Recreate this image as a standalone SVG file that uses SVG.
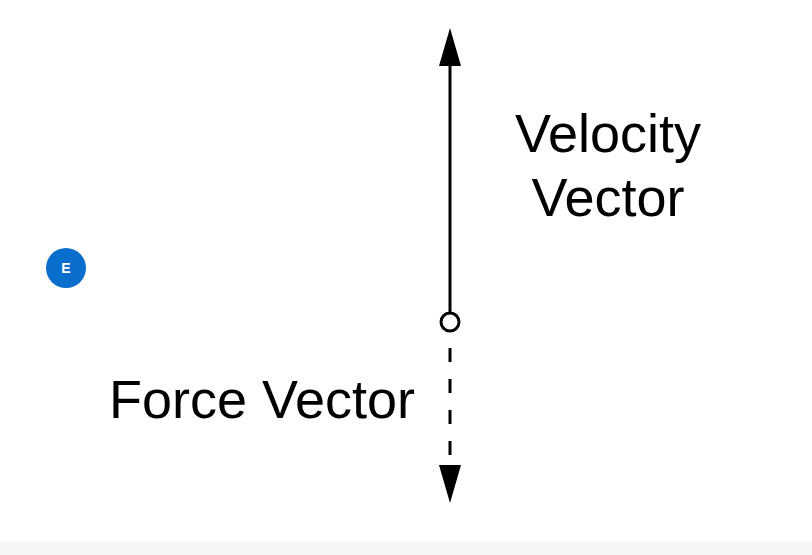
<svg xmlns="http://www.w3.org/2000/svg" width="812" height="555" viewBox="0 0 812 555">
<style>
.lbl{font-family:"Liberation Sans",Arial,sans-serif;font-size:54px;fill:#000}
.ln{stroke:#000;stroke-width:3;fill:none}
</style>
<rect width="812" height="555" fill="#fff"/>
<rect y="541" width="812" height="14" fill="#f6f6f6"/>
<g id="connectors">
<line class="ln" x1="450" y1="62" x2="450" y2="313"/>
<polygon points="450,28 439,66 461,66" fill="#000"/>
<line class="ln" x1="450" y1="348" x2="450" y2="466" stroke-dasharray="14,17"/>
<polygon points="450,503 439,465 461,465" fill="#000"/>
</g>
<g id="origin"><circle cx="450" cy="322" r="9" fill="#fff" stroke="#000" stroke-width="3"/></g>
<g id="velocity"><text class="lbl" text-anchor="middle" x="608" y="152">Velocity</text><text class="lbl" text-anchor="middle" x="608" y="216">Vector</text></g>
<g id="force"><text class="lbl" text-anchor="middle" x="262" y="418">Force Vector</text></g>
<g id="badge"><circle cx="66" cy="268" r="20" fill="#0a6fcc"/><text x="66" y="273" text-anchor="middle" font-family="Liberation Sans,Arial,sans-serif" font-weight="bold" font-size="14" fill="#fff">E</text></g>
</svg>
